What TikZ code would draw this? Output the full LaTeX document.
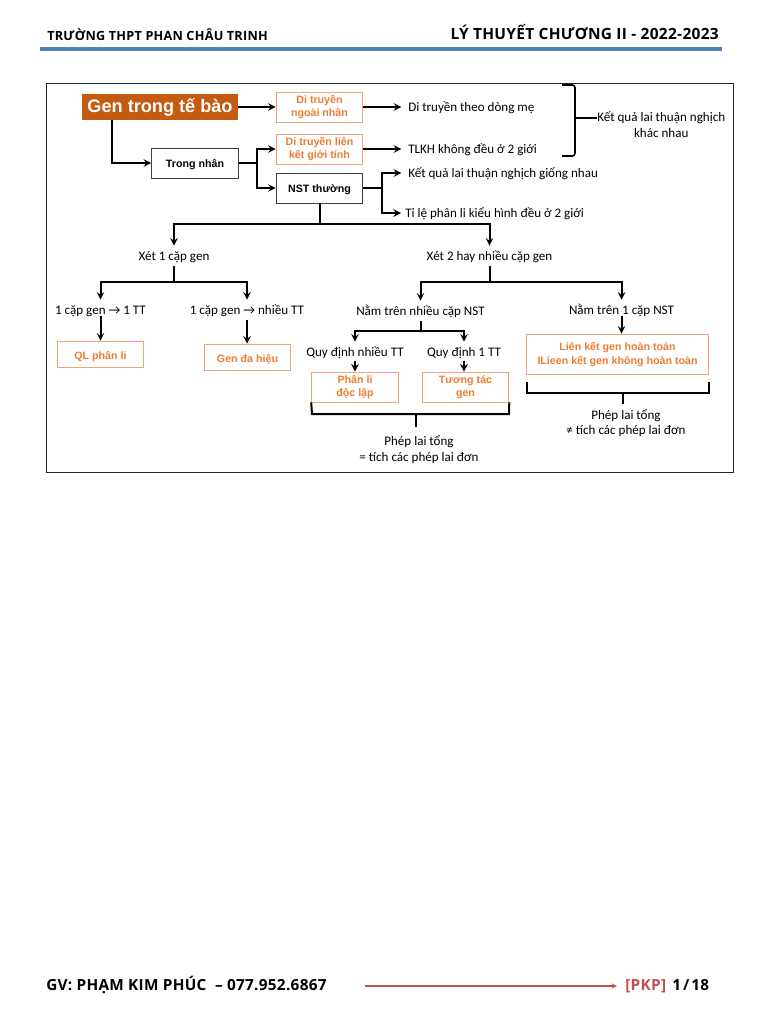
\documentclass[tikz,border=0pt]{standalone}
\usepackage{fontspec}
\setmainfont{Carlito}
\newfontfamily\boxfont{Liberation Sans}
\newfontfamily\headfont{Open Sans}[LetterSpace=2]
\definecolor{genfill}{HTML}{C55A11}
\definecolor{orangetext}{HTML}{ED7D31}
\definecolor{orangeline}{HTML}{EDA67C}
\definecolor{rulecolor}{HTML}{4F81BD}
\definecolor{pkpred}{HTML}{C0504D}
\tikzset{
    >=stealth,
    conn/.style={line width=1.5pt},
    txt/.style={inner sep=0pt,align=center,text height=7.5pt,text depth=1.5pt,font=\fontsize{9.8}{11.6}\selectfont},
    txttwo/.style={inner sep=0pt,align=center,font=\fontsize{9.8}{11.6}\selectfont},
    blackbox/.style={draw=black!75,line width=0.7pt,fill=white,minimum width=65pt,minimum height=22.5pt,inner sep=0pt,align=center,font=\boxfont\bfseries\fontsize{8}{9.75}\selectfont,execute at begin node={\rule{0pt}{8.5pt}}},
    orangebox/.style={blackbox,draw=orangeline,text=orangetext},
    twolines/.style={font=\boxfont\bfseries\fontsize{8}{10}\selectfont,execute at begin node={\rule{0pt}{10.5pt}}},
    head/.style={inner sep=0pt,text height=8pt,text depth=2pt,font=\headfont\bfseries\fontsize{9.5}{11}\selectfont},
    foot/.style={head,anchor=west,font=\headfont\bfseries\fontsize{11.5}{13}\selectfont}
}
\begin{document}
\begin{tikzpicture}[x=0.75pt,y=-0.75pt]
    \useasboundingbox (0,0) rectangle (768,1024);
    % header and footer
    \node[head,anchor=west] (school) at (47,37) {TRƯỜNG THPT PHAN CHÂU TRINH};
    \node[head,anchor=east,font=\headfont\bfseries\fontsize{11.6}{13}\selectfont] (chapter) at (719,36) {LÝ THUYẾT CHƯƠNG II - 2022-2023};
    \fill[rulecolor] (40,47) rectangle (722,51);
    \node[foot] (teacher) at (46,986) {GV: PHẠM KIM PHÚC~ – 077.952.6867};
    \node[foot,text=pkpred] (pkp) at (625,986) {[PKP]};
    \node[foot] (page) at (672,986) {\spaceskip=1.5pt 1 / 18};
    \coordinate (footstart) at (365,986);
    \draw[->,pkpred,line width=0.8pt,shorten >=6pt] (footstart) -- (pkp.west);
    % frame
    \draw[black!85,line width=0.75pt] (46,84) rectangle (733,472);
    % boxes
    \node[fill=genfill,text=white,minimum width=117pt,minimum height=19.5pt,inner sep=0pt,font=\boxfont\bfseries\fontsize{13.6}{15}\selectfont,execute at begin node={\rule{0pt}{11pt}}] (gen) at (160,107) {Gen trong tế bào};
    \node[orangebox,twolines] (dtnn) at (319.5,107) {Di truyền\\ngoài nhân};
    \node[blackbox] (tn) at (195,163) {Trong nhân};
    \node[orangebox,twolines] (dtlk) at (319.5,149) {Di truyền liên\\kết giới tính};
    \node[blackbox] (nst) at (319.5,188) {NST thường};
    \node[orangebox,minimum height=20pt] (ql) at (100.5,354.5) {QL phân li};
    \node[orangebox,minimum height=20pt] (dh) at (247.5,357.5) {Gen đa hiệu};
    \node[orangebox,twolines] (pl) at (355,387) {Phân li\\độc lập};
    \node[orangebox,twolines] (tt) at (465.5,387) {Tương tác\\gen};
    \node[orangebox,twolines,minimum width=136pt,minimum height=30.5pt] (lk) at (617.5,354.5) {Liên kết gen hoàn toàn\\ILieen kết gen không hoàn toàn};
    % texts
    \node[txt,anchor=west] (dtm) at (408,107) {Di truyền theo dòng mẹ};
    \node[txt,anchor=west] (tlkh) at (408,149) {TLKH không đều ở 2 giới};
    \node[txt,anchor=west] (kqg) at (408,173) {Kết quả lai thuận nghịch giống nhau};
    \node[txt,anchor=west] (tl) at (405,213) {Tỉ lệ phân li kiểu hình đều ở 2 giới};
    \node[txttwo,anchor=west] (kqk) at (597,124.5) {Kết quả lai thuận nghịch\\khác nhau};
    \node[txt] (x1) at (174,256) {Xét 1 cặp gen};
    \node[txt] (x2) at (489.5,256) {Xét 2 hay nhiều cặp gen};
    \node[txt] (c1) at (100.5,310) {1 cặp gen → 1 TT};
    \node[txt] (c2) at (247,310) {1 cặp gen → nhiều TT};
    \node[txt] (nn) at (420.5,311) {Nằm trên nhiều cặp NST};
    \node[txt] (n1) at (621.5,310) {Nằm trên 1 cặp NST};
    \node[txt] (qn) at (355,352) {Quy định nhiều TT};
    \node[txt] (q1) at (464,352) {Quy định 1 TT};
    \node[txttwo] (pt1) at (419,449.5) {Phép lai tổng\\= tích các phép lai đơn};
    \node[txttwo] (pt2) at (626,423) {Phép lai tổng\\≠ tích các phép lai đơn};
    % junctions
    \coordinate (jgen) at (112,120);
    \coordinate (jtn) at (257,163);
    \coordinate (jnst) at (382,188);
    \coordinate (jsplit) at (319.5,224);
    \coordinate (jx1) at (174,282);
    \coordinate (jx2) at (489.5,282);
    \coordinate (jnn) at (420.5,331);
    \coordinate (bl) at (312,414);
    \coordinate (br) at (509,414);
    \coordinate (bm) at (416,414);
    \coordinate (cl) at (527,382);
    \coordinate (cr) at (709,382);
    \coordinate (clb) at (527,393);
    \coordinate (crb) at (709,393);
    \coordinate (cm) at (623,393);
    \coordinate (bt) at (562,85);
    \coordinate (bb) at (562,156);
    \coordinate (bmid) at (575,118);
    % connectors
    \draw[conn,->] (gen.east) -- (dtnn.west);
    \draw[conn,->] (jgen) |- (tn.west);
    \draw[conn] (tn.east) -- (jtn);
    \draw[conn,->] (jtn) |- (dtlk.west);
    \draw[conn,->] (jtn) |- (nst.west);
    \draw[conn,->,shorten >=5pt] (dtnn.east) -- (dtm.west);
    \draw[conn,->,shorten >=5pt] (dtlk.east) -- (tlkh.west);
    \draw[conn] (nst.east) -- (jnst);
    \draw[conn,->,shorten >=5pt] (jnst) |- (kqg.west);
    \draw[conn,->,shorten >=3pt] (jnst) |- (tl.west);
    \draw[conn] (nst.south) -- (jsplit);
    \draw[conn,->,shorten >=3pt] (jsplit) -| (x1.north);
    \draw[conn,->,shorten >=3pt] (jsplit) -| (x2.north);
    \draw[conn,shorten <=3pt] (x1.south) -- (jx1);
    \draw[conn,shorten <=3pt] (x2.south) -- (jx2);
    \draw[conn,->,shorten >=3pt] (jx1) -| (c1.north);
    \draw[conn,->,shorten >=3pt] (jx1) -| (c2.north);
    \draw[conn,->,shorten >=3pt] (jx2) -| (nn.north);
    \draw[conn,->,shorten >=3pt] (jx2) -| (n1.north);
    \draw[conn,->] (c1.south) -- (ql.north);
    \draw[conn,->,shorten <=3pt] (c2.south) -- (c2.south |- dh.north);
    \draw[conn,shorten <=3pt] (nn.south) -- (jnn);
    \draw[conn,->,shorten >=3pt] (jnn) -| (qn.north);
    \draw[conn,->,shorten >=3pt] (jnn) -| (q1.north);
    \draw[conn,->,shorten <=2pt] (qn.south) -- (pl.north);
    \draw[conn,->,shorten <=2pt] (q1.south) -- (q1.south |- tt.north);
    \draw[conn,->] (n1.south) -- (n1.south |- lk.north);
    \draw[conn] (pl.south west) -- (bl) -- (br) -- (tt.south east);
    \draw[conn,shorten >=6pt] (bm) -- (bm |- pt1.north);
    \draw[conn] (cl) -- (clb) -- (crb) -- (cr);
    \draw[conn,shorten >=4pt] (cm) -- (cm |- pt2.north);
    \draw[conn,line width=1.2pt,rounded corners=2pt] (bt) -| (bmid) |- (bb);
    \draw[line width=1.1pt] (bmid) -- (kqk.west |- bmid);
\end{tikzpicture}
\end{document}
